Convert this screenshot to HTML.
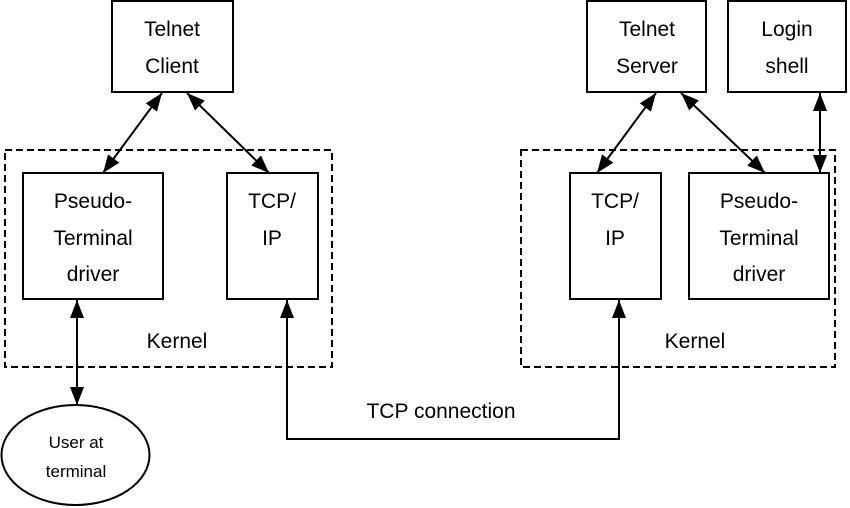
<!DOCTYPE html>
<html><head><meta charset="utf-8"><style>
html,body{margin:0;padding:0;background:#fff;}
svg{display:block;}
text{font-family:"Liberation Sans",sans-serif;fill:#000;}
</style></head><body>
<svg width="850" height="508" viewBox="0 0 850 508" xmlns="http://www.w3.org/2000/svg">
<defs>
<marker id="a" viewBox="0 0 10 10" refX="10" refY="5" markerWidth="5" markerHeight="5" orient="auto-start-reverse" markerUnits="userSpaceOnUse"><path d="M0,0 L10,5 L0,10 z" fill="#000"/></marker>
<marker id="b" viewBox="0 0 10 10" refX="10" refY="5" markerWidth="18" markerHeight="14" orient="auto-start-reverse" markerUnits="userSpaceOnUse" preserveAspectRatio="none"><path d="M0,0 L10,5 L0,10 z" fill="#000"/></marker>
</defs>
<g fill="none" stroke="#000" stroke-width="2">
<rect x="5" y="150" width="327" height="217" stroke-dasharray="7,4"/>
<rect x="521" y="150" width="314" height="217" stroke-dasharray="7,4"/>
<rect x="112" y="1" width="121" height="91" fill="#fff"/>
<rect x="23" y="173" width="140" height="126"/>
<rect x="227" y="173" width="91" height="126"/>
<rect x="587" y="1" width="119" height="91"/>
<rect x="728" y="1" width="118" height="91"/>
<rect x="570" y="173" width="91" height="126"/>
<rect x="689" y="173" width="140" height="126"/>
<ellipse cx="75.5" cy="455" rx="74" ry="50"/>
<line x1="162" y1="93" x2="103" y2="173" marker-start="url(#b)" marker-end="url(#b)"/>
<line x1="187" y1="93" x2="269" y2="173" marker-start="url(#b)" marker-end="url(#b)"/>
<line x1="77" y1="300" x2="77" y2="405" marker-start="url(#b)" marker-end="url(#b)"/>
<line x1="656" y1="93" x2="597" y2="173" marker-start="url(#b)" marker-end="url(#b)"/>
<line x1="681" y1="93" x2="765" y2="173" marker-start="url(#b)" marker-end="url(#b)"/>
<line x1="820" y1="93" x2="820" y2="173" marker-start="url(#b)" marker-end="url(#b)"/>
<polyline points="287,300 287,439 619,439 619,300" marker-start="url(#b)" marker-end="url(#b)"/>
</g>
<g font-size="21" text-anchor="middle">
<text x="172" y="36">Telnet</text><text x="172" y="73">Client</text>
<text x="93" y="208">Pseudo-</text><text x="93" y="245">Terminal</text><text x="93" y="281">driver</text>
<text x="272" y="208">TCP/</text><text x="272" y="245">IP</text>
<text x="177" y="348">Kernel</text>
<text x="647" y="36">Telnet</text><text x="647" y="73">Server</text>
<text x="787" y="36">Login</text><text x="787" y="73">shell</text>
<text x="615" y="208">TCP/</text><text x="615" y="245">IP</text>
<text x="759" y="208">Pseudo-</text><text x="759" y="245">Terminal</text><text x="759" y="281">driver</text>
<text x="695" y="348">Kernel</text>
<text x="441" y="418">TCP connection</text>
</g>
<g font-size="17" text-anchor="middle">
<text x="76" y="448">User at</text><text x="76" y="477">terminal</text>
</g>
</svg>
</body></html>
